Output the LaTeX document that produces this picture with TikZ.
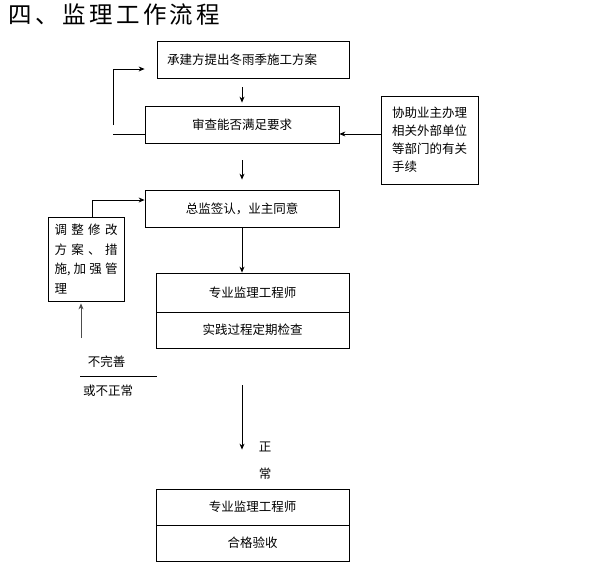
\documentclass[tikz,border=0pt]{standalone}
\usepackage{fontspec}
\setmainfont{Noto Sans CJK SC}
\usetikzlibrary{arrows.meta}

\begin{document}
\begin{tikzpicture}[x=1pt,y=-1pt,>={Stealth[length=6pt,width=5pt]},line width=0.8pt,
box/.style={draw,inner sep=0pt,minimum height=37pt,font=\fontsize{12.5}{15}\selectfont},
lbl/.style={inner sep=0pt,font=\fontsize{12.5}{15}\selectfont}]
\useasboundingbox (0,0) rectangle (596,568);
\node[inner sep=0pt,anchor=west,font=\fontsize{23.5}{25}\selectfont] (title) at (8,14.5)
  {\makebox[212pt][s]{四\hfil 、\hfil 监\hfil 理\hfil 工\hfil 作\hfil 流\hfil 程}};
% boxes
\node[box,inner xsep=10pt,text width=172pt,align=left] (plan) at (253,59.5) {承建方提出冬雨季施工方案};
\node[box,minimum width=194pt] (review) at (242,124.5) {审查能否满足要求};
\node[box,minimum width=97pt,minimum height=88pt,text width=75pt,align=left,
  font=\fontsize{12.5}{18}\selectfont] (aid) at (429.5,140) {协助业主办理\\相关外部单位\\等部门的有关\\手续};
\node[box,minimum width=194pt] (sign) at (242,208.5) {总监签认，业主同意};
\node[box,minimum width=76pt,minimum height=84pt,text width=63pt,align=left,
  font=\fontsize{12.5}{19.5}\selectfont] (adj) at (86,259)
  {\makebox[63pt][s]{调\hfil 整\hfil 修\hfil 改}\\\makebox[63pt][s]{方\hfil 案\hfil 、\hfil 措}\\\makebox[63pt][s]{施,\hfil 加\hfil 强\hfil 管}\\理};
\node[box,minimum width=193pt,minimum height=39pt] (eng) at (252.5,292.5) {专业监理工程师};
\node[box,minimum width=193pt,minimum height=36pt] (check) at (252.5,330) {实践过程定期检查};
\node[box,minimum width=193pt,minimum height=36pt] (eng2) at (252.5,507) {专业监理工程师};
\node[box,minimum width=193pt,minimum height=36pt] (pass) at (252.5,543) {合格验收};
% labels
\node[lbl] (bad1) at (106.5,362) {不完善};
\node[lbl] (bad2) at (108,391) {或不正常};
\node[lbl] (ok1) at (265,447) {正};
\node[lbl] (ok2) at (265,474) {常};
\draw (80,376)--(157,376);
% connectors
\draw[->,shorten <=9pt,shorten >=3pt] (plan.south -| review.north) -- (review.north);
\draw[->,shorten <=17pt,shorten >=10pt] (review.south) -- (sign.north);
\coordinate (backL) at (113,134);
\coordinate (backU) at (113,125);
\draw ([yshift=-9.5pt]review.west) -- (backL);
\draw[->] (backU) |- ([xshift=-12pt,yshift=-9.5pt]plan.west);
\coordinate (revR) at ([yshift=-9.5pt]review.east);
\draw[->] (aid.west |- revR) -- (revR);
\draw[->] ([xshift=6pt]adj.north) |- ([yshift=8.5pt]sign.west);
\draw[->] (sign.south) -- (sign.south |- eng.north);
\coordinate (badS) at (81,338);
\draw[->,black!70,shorten >=2pt] (badS) -- (badS |- adj.south);
\coordinate (okS) at (242,385);
\draw[->,shorten >=39pt] (okS) -- (okS |- eng2.north);
\end{tikzpicture}
\end{document}
